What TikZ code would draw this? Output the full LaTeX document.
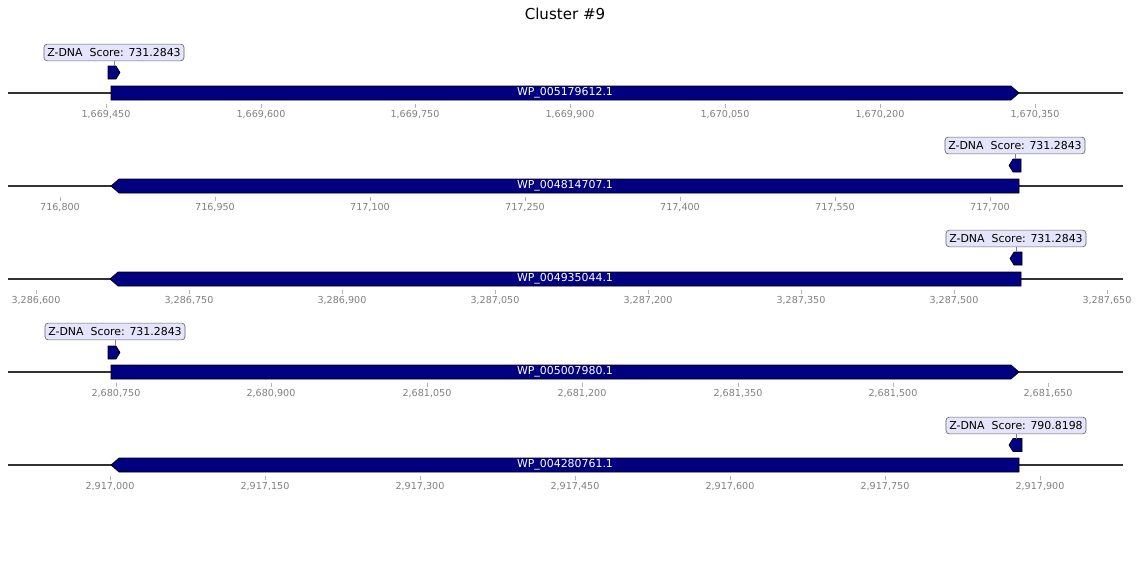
\documentclass[tikz,border=0pt]{standalone}
\usepackage{fontspec}
\setmainfont{DejaVu Sans}
\usepackage{xcolor}
\usepackage{tikz}
\usetikzlibrary{arrows.meta,calc}
\definecolor{GenAzul}{RGB}{0,0,128}
\definecolor{CajaLila}{RGB}{228,228,250}
\definecolor{LineaEje}{RGB}{50,50,50}

\tikzset{
  eje/.style={LineaEje,line width=1.1pt},
  gen/.style={fill=GenAzul,draw=black,line width=0.5pt},
  genetiq/.style={text=white,font=\fontsize{8.2}{9}\selectfont,inner sep=0pt},
  zlabel/.style={draw=gray!80!black,fill=CajaLila,rounded corners=2.5pt,line width=0.5pt,
    font=\fontsize{8.2}{9}\selectfont,inner xsep=2.5pt,inner ysep=3.2pt},
  zlink/.style={gray,line width=0.4pt},
  tickmark/.style={gray!60,line width=0.4pt},
  ticklab/.style={text=gray,font=\fontsize{7.2}{8}\selectfont,inner sep=0pt}
}

\begin{document}
\begin{tikzpicture}[x=0.75pt,y=-0.75pt]
  \useasboundingbox (0,0) rectangle (1139,576);
  \node[font=\fontsize{11.3}{13}\selectfont] (titulo) at (565,14) {Cluster \#9};

  % pista 1
  \draw[eje] (8,93) -- (1123,93);
  \draw[gen] (111,86) -- (1011,86) -- (1019,93) -- (1011,100) -- (111,100) -- cycle;
  \node[genetiq] (g1) at (565,93) {WP\_005179612.1};
  \foreach \x/\t in {106/{1,669,450},261/{1,669,600},415/{1,669,750},570/{1,669,900},725/{1,670,050},880/{1,670,200},1035/{1,670,350}}{
    \draw[tickmark] (\x,104) -- (\x,108);
    \node[ticklab] at (\x,114.5) {\t};
  }
  \draw[gen] (108,66) -- (116,66) -- (120,72.5) -- (116,79) -- (108,79) -- cycle;
  \coordinate (f1) at (114,66);
  \node[zlabel] (z1) at (114,52.5) {Z-DNA\ \ Score: 731.2843};
  \draw[zlink] (z1) -- (f1);

  % pista 2
  \draw[eje] (8,186) -- (1123,186);
  \draw[gen] (111,186) -- (119,179) -- (1019,179) -- (1019,193) -- (119,193) -- cycle;
  \node[genetiq] (g2) at (565,186) {WP\_004814707.1};
  \foreach \x/\t in {60/{716,800},215/{716,950},370/{717,100},525/{717,250},680/{717,400},835/{717,550},990/{717,700}}{
    \draw[tickmark] (\x,197) -- (\x,201);
    \node[ticklab] at (\x,207.5) {\t};
  }
  \draw[gen] (1009,165.5) -- (1013,159) -- (1021,159) -- (1021,172) -- (1013,172) -- cycle;
  \coordinate (f2) at (1015,159);
  \node[zlabel] (z2) at (1015,145.5) {Z-DNA\ \ Score: 731.2843};
  \draw[zlink] (z2) -- (f2);

  % pista 3
  \draw[eje] (8,279) -- (1123,279);
  \draw[gen] (110,279) -- (118,272) -- (1021,272) -- (1021,286) -- (118,286) -- cycle;
  \node[genetiq] (g3) at (565,279) {WP\_004935044.1};
  \foreach \x/\t in {36/{3,286,600},189/{3,286,750},342/{3,286,900},495/{3,287,050},648/{3,287,200},801/{3,287,350},954/{3,287,500},1107/{3,287,650}}{
    \draw[tickmark] (\x,290) -- (\x,294);
    \node[ticklab] at (\x,300.5) {\t};
  }
  \draw[gen] (1010,258.5) -- (1014,252) -- (1022,252) -- (1022,265) -- (1014,265) -- cycle;
  \coordinate (f3) at (1016,252);
  \node[zlabel] (z3) at (1016,238.5) {Z-DNA\ \ Score: 731.2843};
  \draw[zlink] (z3) -- (f3);

  % pista 4
  \draw[eje] (8,372) -- (1123,372);
  \draw[gen] (111,365) -- (1011,365) -- (1019,372) -- (1011,379) -- (111,379) -- cycle;
  \node[genetiq] (g4) at (565,372) {WP\_005007980.1};
  \foreach \x/\t in {116/{2,680,750},271/{2,680,900},427/{2,681,050},582/{2,681,200},738/{2,681,350},893/{2,681,500},1048/{2,681,650}}{
    \draw[tickmark] (\x,383) -- (\x,387);
    \node[ticklab] at (\x,393.5) {\t};
  }
  \draw[gen] (108,346) -- (116,346) -- (120,352.5) -- (116,359) -- (108,359) -- cycle;
  \coordinate (f4) at (115,346);
  \node[zlabel] (z4) at (115,331.5) {Z-DNA\ \ Score: 731.2843};
  \draw[zlink] (z4) -- (f4);

  % pista 5
  \draw[eje] (8,465) -- (1123,465);
  \draw[gen] (111,465) -- (119,458) -- (1019,458) -- (1019,472) -- (119,472) -- cycle;
  \node[genetiq] (g5) at (565,465) {WP\_004280761.1};
  \foreach \x/\t in {110/{2,917,000},265/{2,917,150},420/{2,917,300},575/{2,917,450},730/{2,917,600},885/{2,917,750},1040/{2,917,900}}{
    \draw[tickmark] (\x,476) -- (\x,480);
    \node[ticklab] at (\x,486.5) {\t};
  }
  \draw[gen] (1009,445) -- (1013,438.5) -- (1022,438.5) -- (1022,451.5) -- (1013,451.5) -- cycle;
  \coordinate (f5) at (1016,438.5);
  \node[zlabel] (z5) at (1016,425.5) {Z-DNA\ \ Score: 790.8198};
  \draw[zlink] (z5) -- (f5);
\end{tikzpicture}
\end{document}
